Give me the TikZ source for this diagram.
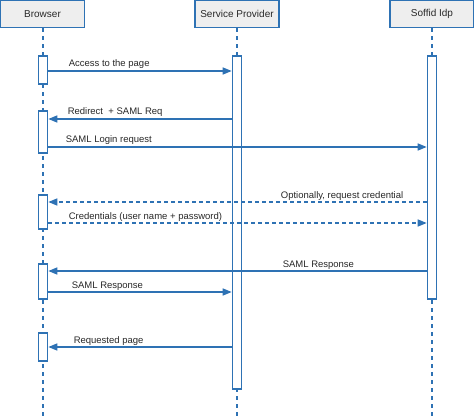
\documentclass[tikz,border=0pt]{standalone}
\usepackage{fontspec}
\setmainfont{Liberation Sans}
\usepackage{xcolor}
\usetikzlibrary{arrows.meta,positioning}
\definecolor{seqblue}{RGB}{46,114,180}
\definecolor{headfill}{RGB}{238,238,238}
\definecolor{txtgray}{RGB}{40,40,40}

\begin{document}
\begin{tikzpicture}[x=1pt,y=-1pt,
  head/.style={draw=seqblue,line width=1.8pt,fill=headfill,minimum width=84pt,
    minimum height=27pt,inner sep=0pt,font=\fontsize{10}{12}\selectfont,text=txtgray},
  life/.style={seqblue,line width=1.5pt,dash pattern=on 4pt off 4pt},
  bar/.style={draw=seqblue,line width=1.6pt,fill=white,minimum width=9pt,inner sep=0pt},
  msg/.style={-{Triangle[length=9pt,width=7pt]},seqblue,line width=1.5pt},
  rmsg/.style={msg,dash pattern=on 4pt off 3pt},
  lbl/.style={font=\fontsize{9.5}{11}\selectfont,text=txtgray,inner sep=0pt}
]
\useasboundingbox (0,0) rectangle (474,417);
\node[head] (browser) at (42.5,14) {Browser};
\node[head] (sp) at (237,14) {Service Provider};
\node[head] (idp) at (432,14) {Soffid Idp};
\coordinate (browserend) at (43,417);
\coordinate (spend) at (237,417);
\coordinate (idpend) at (432,417);
\draw[life] (browser.south -| browserend) -- (browserend);
\draw[life] (sp.south) -- (spend);
\draw[life] (idp.south) -- (idpend);

% activations
\node[bar,minimum height=28pt] (b1) at (43,70) {};
\node[bar,minimum height=42pt] (b2) at (43,132) {};
\node[bar,minimum height=34pt] (b3) at (43,212) {};
\node[bar,minimum height=35pt] (b4) at (43,281.5) {};
\node[bar,minimum height=28pt] (b5) at (43,347) {};
\node[bar,minimum height=333pt] (spa) at (237,222.5) {};
\node[bar,minimum height=243pt] (ida) at (432,177.5) {};

% messages
\draw[msg] (b1.east |- 0,71) -- (spa.west |- 0,71)
  node[lbl,anchor=base west] (m1) at (68,67) {Access to the page};
\draw[msg] (spa.west |- 0,119) -- (b2.east |- 0,119)
  node[lbl,anchor=base west] (m2) at (67,115) {Redirect~ + SAML Req};
\draw[msg] (b2.east |- 0,147) -- (ida.west |- 0,147)
  node[lbl,anchor=base west] (m3) at (65,143) {SAML Login request};
\draw[rmsg] (ida.west |- 0,202) -- (b3.east |- 0,202)
  node[lbl,anchor=base east] (m4) at (404,198) {Optionally, request credential};
\draw[rmsg] (b3.east |- 0,223) -- (ida.west |- 0,223)
  node[lbl,anchor=base west] (m5) at (68,219) {Credentials (user name + password)};
\draw[msg] (ida.west |- 0,271) -- (b4.east |- 0,271)
  node[lbl,anchor=base west] (m6) at (282,267) {SAML Response};
\draw[msg] (b4.east |- 0,292) -- (spa.west |- 0,292)
  node[lbl,anchor=base west] (m7) at (71,288) {SAML Response};
\draw[msg] (spa.west |- 0,347) -- (b5.east |- 0,347)
  node[lbl,anchor=base west] (m8) at (73,343) {Requested page};
\end{tikzpicture}
\end{document}
